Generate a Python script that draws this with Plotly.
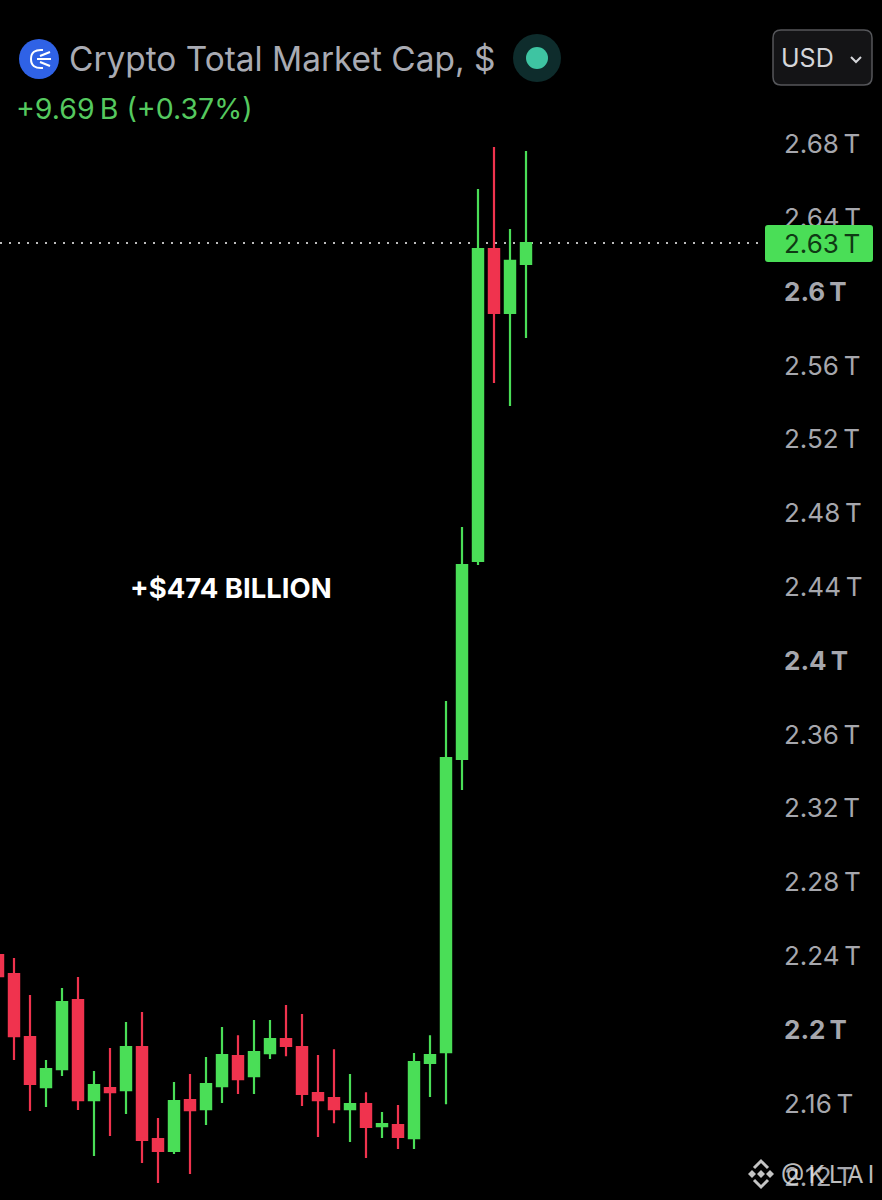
import plotly.graph_objects as go

# candles, values in trillions
candle_x = list(range(34))
opens = [2.2404, 2.2301, 2.1959, 2.1688, 2.1786, 2.2160, 2.1618, 2.1683, 2.1672, 2.1905, 2.1407, 2.1342,
         2.1618, 2.1569, 2.1694, 2.1856, 2.1748, 2.1873, 2.1949, 2.1905, 2.1656, 2.1629, 2.1569, 2.1596,
         2.1477, 2.1483, 2.1412, 2.1819, 2.1878, 2.3467, 2.4540, 2.6231, 2.5884, 2.6150]
closes = [2.2290, 2.1965, 2.1705, 2.1786, 2.2149, 2.1618, 2.1699, 2.1661, 2.1905, 2.1402, 2.1342, 2.1613,
          2.1564, 2.1705, 2.1862, 2.1732, 2.1878, 2.1949, 2.1911, 2.1651, 2.1618, 2.1569, 2.1596, 2.1472,
          2.1488, 2.1418, 2.1824, 2.1862, 2.3472, 2.4518, 2.6231, 2.5884, 2.6166, 2.6263]
highs = [2.2404, 2.2388, 2.2187, 2.1835, 2.2225, 2.2285, 2.1775, 2.1900, 2.2041, 2.2095, 2.1521, 2.1716,
         2.1759, 2.1851, 2.2014, 2.1970, 2.2052, 2.2052, 2.2133, 2.2084, 2.1862, 2.1894, 2.1759, 2.1661,
         2.1553, 2.1591, 2.1873, 2.1970, 2.3781, 2.4724, 2.6556, 2.6784, 2.6339, 2.6762]
lows = [2.2290, 2.1835, 2.1559, 2.1580, 2.1748, 2.1564, 2.1315, 2.1423, 2.1542, 2.1277, 2.1169, 2.1326,
        2.1217, 2.1483, 2.1602, 2.1651, 2.1651, 2.1840, 2.1856, 2.1586, 2.1418, 2.1493, 2.1391, 2.1304,
        2.1412, 2.1353, 2.1353, 2.1634, 2.1596, 2.3299, 2.4518, 2.5505, 2.5380, 2.5749]
last_price = 2.6263

tick_vals = [2.68, 2.64, 2.6, 2.56, 2.52, 2.48, 2.44, 2.4, 2.36, 2.32, 2.28, 2.24, 2.2, 2.16, 2.12]
tick_text = ["2.68\u2009T", "2.64\u2009T", "<b>2.6\u2009T</b>", "2.56\u2009T", "2.52\u2009T", "2.48\u2009T",
             "2.44\u2009T", "<b>2.4\u2009T</b>", "2.36\u2009T", "2.32\u2009T", "2.28\u2009T", "2.24\u2009T",
             "<b>2.2\u2009T</b>", "2.16\u2009T", "2.12\u2009T"]

GREEN = "#4ade57"
RED = "#f0334e"
FONT = "Inter"
W, H = 882, 1200
PLOT_W = 783


def px(x):
    return x / PLOT_W


def py(y):
    return 1 - y / H


def path(points):
    return "M " + " L ".join(f"{px(a)},{py(b)}" for a, b in points)


def circle(cx, cy, r, fill):
    return dict(type="circle", xref="paper", yref="paper", x0=px(cx - r), x1=px(cx + r),
                y0=py(cy + r), y1=py(cy - r), fillcolor=fill, line_width=0)


def poly(points, fill=None, color=None, width=0):
    d = path(points)
    if fill:
        d += " Z"
    return dict(type="path", xref="paper", yref="paper", path=d, fillcolor=fill,
                line=dict(color=color, width=width))


def rounded(x0, y0, x1, y1, r):
    return (f"M {px(x0 + r)},{py(y0)} L {px(x1 - r)},{py(y0)} Q {px(x1)},{py(y0)} {px(x1)},{py(y0 + r)} "
            f"L {px(x1)},{py(y1 - r)} Q {px(x1)},{py(y1)} {px(x1 - r)},{py(y1)} "
            f"L {px(x0 + r)},{py(y1)} Q {px(x0)},{py(y1)} {px(x0)},{py(y1 - r)} "
            f"L {px(x0)},{py(y0 + r)} Q {px(x0)},{py(y0)} {px(x0 + r)},{py(y0)} Z")


def label(x, y, text, size, color, anchor="left"):
    return dict(xref="paper", yref="paper", x=px(x), y=py(y), text=text, showarrow=False,
                xanchor=anchor, yanchor="middle", borderpad=0,
                font=dict(family=FONT, size=size, color=color))


fig = go.Figure(go.Candlestick(
    x=candle_x, open=opens, high=highs, low=lows, close=closes,
    whiskerwidth=0,
    increasing=dict(fillcolor=GREEN, line=dict(color=GREEN, width=2.2)),
    decreasing=dict(fillcolor=RED, line=dict(color=RED, width=2.2)),
    showlegend=False,
))

shapes = [
    # last price line
    dict(type="line", xref="paper", yref="y", x0=0, x1=px(762), y0=last_price, y1=last_price, layer="below",
         line=dict(color="#bdbdbd", width=2, dash="2px,7px")),
    # price tag
    dict(type="path", xref="paper", yref="paper", path=rounded(765, 225, 873, 262, 3), fillcolor=GREEN, line_width=0),
    # currency button
    dict(type="path", xref="paper", yref="paper", path=rounded(773, 30, 872, 85, 8), fillcolor="#141416",
         line=dict(color="#55565a", width=1.5)),
    poly([(851, 57), (856, 62), (861, 57)], color="#d5d6da", width=2),
    # title icon
    circle(39, 59, 20, "#2f62e6"),
    dict(type="path", xref="paper", yref="paper",
         path=f"M {px(43)},{py(50)} Q {px(31)},{py(49)} {px(31)},{py(59)} Q {px(31)},{py(69)} {px(43)},{py(68)}",
         line=dict(color="white", width=2)),
    poly([(37, 59), (51, 59)], color="white", width=2),
    poly([(40, 56), (50, 52)], color="white", width=2),
    poly([(40, 62), (50, 66)], color="white", width=2),
    # status dot
    circle(537, 58, 24, "#0e2c2c"),
    circle(537, 58, 11, "#3ec4a2"),
    # watermark logo
    poly([(761, 1170), (765, 1174), (761, 1178), (757, 1174)], fill="#c4c4c4"),
    poly([(752, 1170), (756, 1174), (752, 1178), (748, 1174)], fill="#c4c4c4"),
    poly([(770, 1170), (774, 1174), (770, 1178), (766, 1174)], fill="#c4c4c4"),
    poly([(754, 1168), (761, 1161), (768, 1168)], color="#c4c4c4", width=3),
    poly([(754, 1180), (761, 1187), (768, 1180)], color="#c4c4c4", width=3),
]

annotations = [
    label(68, 59, "Crypto Total Market Cap, $", 33.4, "#a9abb3"),
    label(15, 109, "+9.69\u2009B (+0.37%)", 28.5, "#55c95f"),
    label(780, 58, "USD", 25, "#d5d6da"),
    label(783, 243, "2.63\u2009T", 26, "#0f3a14"),
    label(129, 588, "<b>+$474 BILLION</b>", 27.5, "white"),
    label(780, 1174, "@\u2009K\u2009L\u2009A\u2009I", 24, "rgba(225,225,225,0.85)"),
]

fig.update_layout(
    width=W, height=H,
    margin=dict(l=0, r=W - PLOT_W, t=0, b=0),
    paper_bgcolor="black", plot_bgcolor="black",
    boxgap=0.36, boxgroupgap=0,
    shapes=shapes, annotations=annotations,
    xaxis=dict(range=[0.125, 49.0625], visible=False, rangeslider=dict(visible=False)),
    yaxis=dict(range=[2.10764, 2.75805], side="right", tickmode="array", tickvals=tick_vals, ticktext=tick_text,
               showgrid=False, zeroline=False, showline=False, ticks="",
               tickfont=dict(family=FONT, size=26, color="#a6a7ad")),
)

# page has a default body margin, drop it so the figure fills the window
fig.write_html("out.html", config=dict(displayModeBar=False),
               post_script="document.body.style.margin='0';document.documentElement.style.background='black';document.documentElement.style.overflow='hidden';")
